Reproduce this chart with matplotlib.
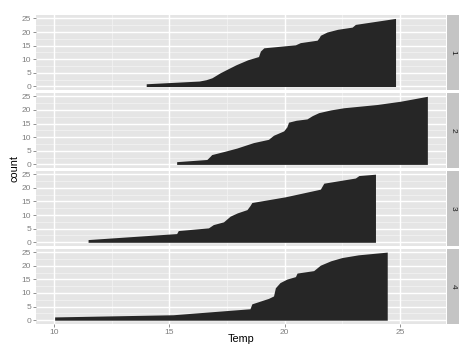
import matplotlib
matplotlib.use('Agg')
import matplotlib.pyplot as plt
import numpy as np

plt.rcParams['font.family'] = ['Liberation Sans', 'DejaVu Sans']

# cumulative count against Temp, one series per facet
temp_1 = [14.0, 16.3, 16.6, 16.85, 17.2, 17.5, 17.9, 18.4, 18.87, 18.95, 19.1, 20.47, 20.68, 21.41, 21.5, 21.55, 21.84, 22.3, 22.93, 23.07, 24.81]
count_1 = [1, 2, 2.5, 3.2, 5, 6.3, 8, 9.8, 11, 13, 14.2, 15.3, 16.1, 17, 18, 18.8, 20, 21, 21.8, 22.8, 25]

temp_2 = [15.32, 16.63, 16.75, 16.84, 17.4, 17.93, 18.65, 19.3, 19.52, 19.96, 20.1, 20.17, 20.5, 20.97, 21.2, 21.48, 22.0, 22.57, 24.02, 25.03, 26.19]
count_2 = [1, 1.8, 2.8, 3.6, 4.8, 6, 8, 9.2, 10.7, 12.3, 13.8, 15.5, 16.2, 16.7, 17.9, 19, 20, 20.8, 22, 23.2, 25]

temp_3 = [11.48, 15.32, 15.39, 16.7, 16.91, 17.35, 17.64, 17.95, 18.37, 18.5, 18.58, 20.03, 21.55, 21.7, 23.07, 23.22, 23.94]
count_3 = [1, 3.2, 4.3, 5.3, 6.5, 7.5, 9.6, 10.8, 12, 13.5, 14.6, 16.7, 19.5, 21.7, 23.6, 24.5, 25]

temp_4 = [10.03, 15.17, 18.5, 18.58, 19.3, 19.52, 19.6, 19.8, 20.1, 20.47, 20.54, 21.26, 21.55, 22.0, 22.49, 23.2, 24.45]
count_4 = [1.2, 2, 4.2, 6.0, 8.0, 8.9, 11.9, 13.8, 15.1, 16, 17.3, 18.2, 20.2, 21.8, 23, 24, 25]

facets = ['1', '2', '3', '4']
temps = [temp_1, temp_2, temp_3, temp_4]
counts = [count_1, count_2, count_3, count_4]

x_ticks = [10, 15, 20, 25]
y_ticks = [0, 5, 10, 15, 20, 25]

W, H = 474, 353
fig = plt.figure(figsize=(W / 100, H / 100), dpi=100)


def rect(left, top, right, bottom):
    return [left / W, 1 - bottom / H, (right - left) / W, (bottom - top) / H]


panel_left, panel_right = 36, 446
strip_left, strip_right = 447, 459
top0, panel_h, gap = 15, 74.9, 3

# x range: data range plus 5% each side, as ggplot does
xmin = min(min(t) for t in temps)
xmax = max(max(t) for t in temps)
pad = 0.05 * (xmax - xmin)

for i, (lab, t, c) in enumerate(zip(facets, temps, counts)):
    top = top0 + i * (panel_h + gap)
    bottom = top + panel_h
    ax = fig.add_axes(rect(panel_left, top, panel_right, bottom))
    ax.set_facecolor('#E5E5E5')
    ax.set_xlim(xmin - pad, xmax + pad)
    ax.set_ylim(-1.25, 26.25)
    # minor grid first, then major
    for v in [7.5, 12.5, 17.5, 22.5, 27.5]:
        ax.axvline(v, color='#F2F2F2', lw=0.6, zorder=0)
    for v in np.arange(2.5, 25, 5):
        ax.axhline(v, color='#F2F2F2', lw=0.6, zorder=0)
    for v in x_ticks:
        ax.axvline(v, color='white', lw=1.0, zorder=0)
    for v in y_ticks:
        ax.axhline(v, color='white', lw=1.0, zorder=0)
    ax.fill_between(t, c, 0, color='#262626', lw=0, zorder=2)

    for s in ax.spines.values():
        s.set_visible(False)
    ax.set_yticks(y_ticks)
    ax.set_yticklabels([str(v) for v in y_ticks])
    ax.tick_params(axis='y', length=2.5, width=0.6, color='#7F7F7F',
                   labelsize=6, labelcolor='#7F7F7F', pad=1)
    ax.set_xticks(x_ticks)
    if i == len(facets) - 1:
        ax.set_xticklabels([str(v) for v in x_ticks])
        ax.tick_params(axis='x', length=2.5, width=0.6, color='#7F7F7F',
                       labelsize=6, labelcolor='#7F7F7F', pad=1.5)
    else:
        ax.tick_params(axis='x', length=0, labelbottom=False)

    # facet strip on the right
    sax = fig.add_axes(rect(strip_left, top, strip_right, bottom))
    sax.set_facecolor('#C4C4C4')
    sax.set_xticks([])
    sax.set_yticks([])
    for s in sax.spines.values():
        s.set_visible(False)
    sax.text(0.5, 0.5, lab, rotation=-90, ha='center', va='center',
             fontsize=6, color='#1A1A1A', transform=sax.transAxes)

fig.text((panel_left + panel_right) / 2 / W, 1 - 339 / H, 'Temp',
         ha='center', va='center', fontsize=7.8)
fig.text(15 / W, 1 - 169 / H, 'count', rotation=90,
         ha='center', va='center', fontsize=7.8)

fig.savefig('out.png', dpi=100)
